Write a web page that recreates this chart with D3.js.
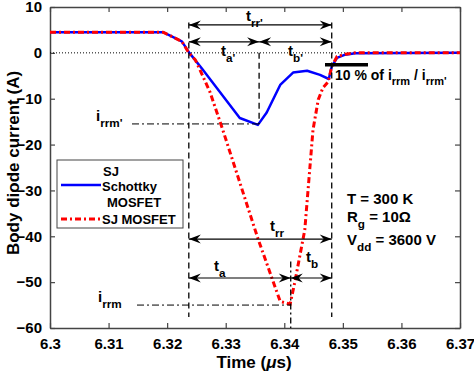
<!DOCTYPE html>
<html>
<head>
<meta charset="utf-8">
<script src="https://cdn.jsdelivr.net/npm/d3@7/dist/d3.min.js"></script>
<style>
  body { margin: 0; background: #fff; }
  text { font-family: "Liberation Sans", Arial, sans-serif; font-weight: bold; }
</style>
</head>
<body>
<div id="chart"></div>
<script>
/* data */
var xTicks = [6.3, 6.31, 6.32, 6.33, 6.34, 6.35, 6.36, 6.37];
var yTicks = [10, 0, -10, -20, -30, -40, -50, -60];

// SJ Schottky MOSFET (time in us, current in A)
var schottkyT = [6.300, 6.3193, 6.3225, 6.3238, 6.3261, 6.3324, 6.3355, 6.3370, 6.3393, 6.3415, 6.3439, 6.3461, 6.3476, 6.3481, 6.3490, 6.3504, 6.3521, 6.370];
var schottkyI = [4.5, 4.5, 2.5, 0, -3.7, -14.2, -15.7, -13, -7, -4.3, -3.9, -4.8, -5.7, -3, -1.1, -0.4, -0.1, 0];

// SJ MOSFET
var sjT = [6.300, 6.3193, 6.3225, 6.3237, 6.3248, 6.3256, 6.3273, 6.3295, 6.3355, 6.3393, 6.3410, 6.3418, 6.3435, 6.3449, 6.3458, 6.3466, 6.3475, 6.3481, 6.3490, 6.3504, 6.3521, 6.370];
var sjI = [4.5, 4.5, 2.5, 0, -1.5, -3.7, -8.5, -16.8, -40.5, -54.2, -54.8, -50, -38.6, -16.8, -10.2, -7.6, -6.3, -3, -0.8, -0.3, 0, 0];

// annotation times / levels
var tStart = 6.3237, tEnd = 6.3481, tMinB = 6.3357, tMinR = 6.3411;
var irrmB = -15.5, irrmR = -55;

var width = 474, height = 374;
var margin = {left: 50, right: 14, top: 7, bottom: 46};

var svg = d3.select('#chart').append('svg')
    .attr('width', width)
    .attr('height', height);

var x = d3.scaleLinear().domain([6.3, 6.37]).range([margin.left, width - margin.right]);
var y = d3.scaleLinear().domain([-60, 10]).range([height - margin.bottom, margin.top]);

// arrow head
svg.append('defs').append('marker')
    .attr('id', 'head')
    .attr('markerUnits', 'userSpaceOnUse')
    .attr('viewBox', '-13 -6 14 12')
    .attr('refX', 0).attr('refY', 0)
    .attr('markerWidth', 14).attr('markerHeight', 12)
    .attr('orient', 'auto-start-reverse')
    .append('path')
    .attr('d', 'M0,0 L-12,-4.5 L-8,0 L-12,4.5 Z')
    .attr('fill', '#000');

// axes, ticks inward on all four sides
var fmt = function(d){ return String(+d.toFixed(2)); };
var axisColor = '#444';

function styleAxis(g){
    g.select('.domain').attr('stroke', axisColor).attr('stroke-width', 1.5);
    g.selectAll('.tick line').attr('stroke', axisColor).attr('stroke-width', 1.2);
    g.selectAll('.tick text').attr('fill', '#000').style('font-size', '15px')
        .style('font-family', '"Liberation Sans", Arial, sans-serif').style('font-weight', 'bold');
}

svg.append('g').attr('transform', 'translate(0,' + y(-60) + ')')
    .call(d3.axisBottom(x).tickValues(xTicks).tickFormat(fmt).tickSize(-5).tickSizeOuter(0).tickPadding(10))
    .call(styleAxis);
svg.append('g').attr('transform', 'translate(0,' + y(10) + ')')
    .call(d3.axisTop(x).tickValues(xTicks).tickFormat('').tickSize(-5).tickSizeOuter(0))
    .call(styleAxis);
svg.append('g').attr('transform', 'translate(' + x(6.3) + ',0)')
    .call(d3.axisLeft(y).tickValues(yTicks).tickSize(-5).tickSizeOuter(0).tickPadding(8))
    .call(styleAxis);
svg.append('g').attr('transform', 'translate(' + x(6.37) + ',0)')
    .call(d3.axisRight(y).tickValues(yTicks).tickFormat('').tickSize(-5).tickSizeOuter(0))
    .call(styleAxis);

// zero reference
svg.append('line')
    .attr('x1', x(6.3)).attr('x2', x(6.37))
    .attr('y1', y(0)).attr('y2', y(0))
    .attr('stroke', '#000').attr('stroke-width', 1)
    .attr('stroke-dasharray', '1,2');

// curves
var line = d3.line()
    .x(function(d){ return x(d[0]); })
    .y(function(d){ return y(d[1]); });

svg.append('path')
    .datum(d3.zip(schottkyT, schottkyI))
    .attr('d', line)
    .attr('fill', 'none')
    .attr('stroke', '#0000ff')
    .attr('stroke-width', 2.5)
    .attr('stroke-linejoin', 'round');

svg.append('path')
    .datum(d3.zip(sjT, sjI))
    .attr('d', line)
    .attr('fill', 'none')
    .attr('stroke', '#ff0000')
    .attr('stroke-width', 3)
    .attr('stroke-dasharray', '6,3,2,3');

// annotation helpers
function vline(t, v1, v2, dash){
    svg.append('line')
        .attr('x1', x(t)).attr('x2', x(t))
        .attr('y1', y(v1)).attr('y2', y(v2))
        .attr('stroke', '#000').attr('stroke-width', 1.3)
        .attr('stroke-dasharray', dash);
}
function hline(t1, t2, v, dash){
    svg.append('line')
        .attr('x1', t1).attr('x2', x(t2))
        .attr('y1', y(v)).attr('y2', y(v))
        .attr('stroke', '#000').attr('stroke-width', 1)
        .attr('stroke-dasharray', dash);
}
function arrow(t1, t2, v){
    svg.append('line')
        .attr('x1', x(t1)).attr('x2', x(t2))
        .attr('y1', y(v)).attr('y2', y(v))
        .attr('stroke', '#000').attr('stroke-width', 1.2)
        .attr('marker-start', 'url(#head)')
        .attr('marker-end', 'url(#head)');
}
function label(px, py, main, sub, size, anchor){
    var t = svg.append('text')
        .attr('x', px).attr('y', py)
        .attr('text-anchor', anchor || 'start')
        .style('font-size', size + 'px');
    t.append('tspan').text(main);
    if (sub) {
        t.append('tspan').attr('dy', size * 0.38).style('font-size', (size * 0.78) + 'px').text(sub);
    }
    return t;
}

// vertical guides
vline(tStart, 6.6, -57.6, '6,4');
vline(tEnd, 6.6, -57.6, '6,4');
vline(tMinB, 0, irrmB, '6,4');
vline(tMinR, -45.5, -60, '6,3,2,3');

// peak levels
hline(132, tMinB, irrmB, '7,3,2,3');
hline(137, tMinR, irrmR, '7,3,2,3');

// time arrows
arrow(tStart, tEnd, 6.1);
arrow(tStart, tMinB, 2.4);
arrow(tMinB, tEnd, 2.4);
arrow(tStart, tEnd, -40.6);
arrow(tStart, tMinR, -49.1);
arrow(tMinR, tEnd, -49.1);

// labels on the arrows
label(246, 21, 't', "rr'", 15);
label(221, 56, 't', "a'", 15);
label(288, 56, 't', "b'", 15);
label(270, 231, 't', 'rr', 15);
label(214, 271, 't', 'a', 15);
label(306, 262, 't', 'b', 15);
label(96, 121, 'i', "rrm'", 15);
label(98, 302, 'i', 'rrm', 15);

// 10 % marker
svg.append('line')
    .attr('x1', 325).attr('x2', 368)
    .attr('y1', y(-2.6)).attr('y2', y(-2.6))
    .attr('stroke', '#000').attr('stroke-width', 3.5);
var pct = label(335, 80, '10 % of ', null, 14);
pct.append('tspan').text('i');
pct.append('tspan').attr('dy', 5).style('font-size', '11px').text('rrm');
pct.append('tspan').attr('dy', -5).text(' / i');
pct.append('tspan').attr('dy', 5).style('font-size', '11px').text("rrm'");

// conditions
label(347, 204, 'T = 300 K', null, 15);
var rg = label(347, 222, 'R', 'g', 15);
rg.append('tspan').attr('dy', -15 * 0.38).text(' = 10\u03a9');
var vd = label(347, 245, 'V', 'dd', 15);
vd.append('tspan').attr('dy', -15 * 0.38).text(' = 3600 V');

// legend
var lg = svg.append('g');
lg.append('rect')
    .attr('x', 57).attr('y', 160).attr('width', 126).attr('height', 68)
    .attr('fill', '#fff').attr('stroke', '#444').attr('stroke-width', 1);
lg.append('line').attr('x1', 61).attr('x2', 101).attr('y1', 185).attr('y2', 185)
    .attr('stroke', '#0000ff').attr('stroke-width', 2.5);
lg.append('line').attr('x1', 61).attr('x2', 101).attr('y1', 219).attr('y2', 219)
    .attr('stroke', '#ff0000').attr('stroke-width', 3).attr('stroke-dasharray', '6,3,2,3');
label(103, 176, 'SJ', null, 13).attr('x', 103);
label(102, 191, 'Schottky', null, 13);
label(107, 207, 'MOSFET', null, 13);
label(102, 224, 'SJ MOSFET', null, 13);

// axis titles
var xt = svg.append('text')
    .attr('x', 254).attr('y', 368)
    .attr('text-anchor', 'middle')
    .style('font-size', '17px');
xt.append('tspan').text('Time (');
xt.append('tspan').style('font-style', 'italic').text('\u03bc');
xt.append('tspan').text('s)');

svg.append('text')
    .attr('transform', 'translate(19,163) rotate(-90)')
    .attr('text-anchor', 'middle')
    .style('font-size', '17px')
    .text('Body diode current (A)');
</script>
</body>
</html>
